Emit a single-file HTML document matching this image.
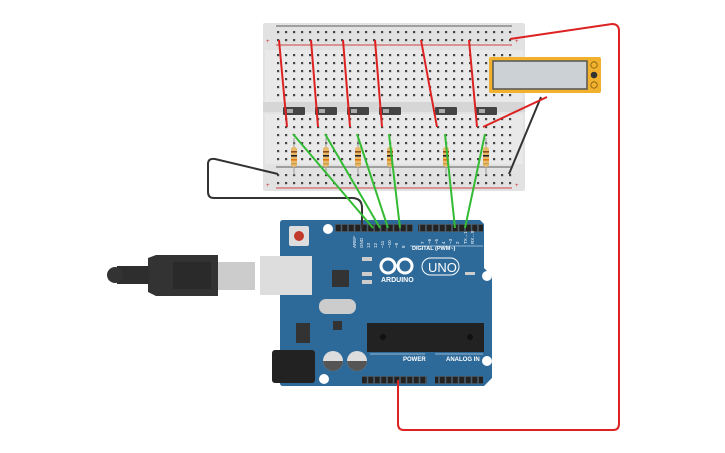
<!DOCTYPE html>
<html><head><meta charset="utf-8"><style>html,body{margin:0;padding:0;background:#fff;width:725px;height:453px;overflow:hidden}svg{display:block}text{font-family:"Liberation Sans",sans-serif}</style></head><body>
<svg width="725" height="453" viewBox="0 0 725 453" xmlns="http://www.w3.org/2000/svg">
<defs>
<pattern id="dots" x="274" y="51" width="8" height="8" patternUnits="userSpaceOnUse"><rect x="3" y="3" width="2.2" height="2.2" fill="#444"/></pattern>
<pattern id="rdots" x="274" y="28" width="8" height="8" patternUnits="userSpaceOnUse"><rect x="3" y="3" width="2.2" height="2.2" fill="#444"/></pattern>
<pattern id="hdr" x="335" y="224" width="6.5" height="8" patternUnits="userSpaceOnUse"><rect x="0.5" y="0.5" width="5.5" height="7" fill="#222" stroke="#555" stroke-width="0.6"/></pattern>
</defs>
<rect x="263" y="23" width="262" height="168" rx="2" fill="#e2e2e2"/>
<rect x="265" y="50" width="258" height="52" fill="#e9e9e9"/>
<rect x="265" y="114" width="258" height="50" fill="#e9e9e9"/>
<rect x="263" y="102" width="262" height="10" fill="#d6d6d6"/>
<line x1="276" y1="26" x2="512" y2="26" stroke="#777" stroke-width="1.2"/>
<line x1="276" y1="45" x2="512" y2="45" stroke="#c44" stroke-width="1"/>
<line x1="276" y1="167" x2="512" y2="167" stroke="#777" stroke-width="1.2"/>
<line x1="276" y1="188" x2="512" y2="188" stroke="#c44" stroke-width="1"/>
<rect x="274" y="28" width="240" height="16" fill="url(#rdots)"/>
<rect x="274" y="170" width="240" height="16" fill="url(#dots)"/>
<rect x="274" y="51" width="240" height="48" fill="url(#dots)"/>
<rect x="274" y="115" width="240" height="48" fill="url(#dots)"/>
<g font-size="6" fill="#c33"><text x="266" y="43">+</text><text x="515" y="43">+</text><text x="266" y="187">+</text><text x="515" y="187">+</text></g>
<g fill="#444"><rect x="283" y="107" width="22" height="8" rx="1"/><rect x="315" y="107" width="22" height="8" rx="1"/><rect x="347" y="107" width="22" height="8" rx="1"/><rect x="379" y="107" width="22" height="8" rx="1"/><rect x="435" y="107" width="22" height="8" rx="1"/><rect x="475" y="107" width="22" height="8" rx="1"/></g>
<g fill="#aaa"><rect x="287" y="109" width="6" height="4"/><rect x="319" y="109" width="6" height="4"/><rect x="351" y="109" width="6" height="4"/><rect x="383" y="109" width="6" height="4"/><rect x="439" y="109" width="6" height="4"/><rect x="479" y="109" width="6" height="4"/></g>
<g><g id="r"><line x1="294" y1="138" x2="294" y2="175" stroke="#999" stroke-width="1"/><rect x="291" y="147" width="6" height="20" rx="2.5" fill="#e8b96a"/><rect x="291" y="151" width="6" height="1.6" fill="#8a4b1a"/><rect x="291" y="155" width="6" height="1.6" fill="#222"/><rect x="291" y="159" width="6" height="1.6" fill="#e07a10"/><rect x="291" y="163" width="6" height="1.4" fill="#c9a34a"/></g>
<use href="#r" x="32"/><use href="#r" x="64"/><use href="#r" x="96"/><use href="#r" x="152"/><use href="#r" x="192"/></g>
<path d="M283 220 H480 L484 224 V268 L492 276 V378 L484 386 H283 Q280 386 280 383 V223 Q280 220 283 220 Z" fill="#2d6a9a"/>
<rect x="335" y="224" width="78" height="8" fill="url(#hdr)"/>
<rect x="418" y="224" width="65" height="8" fill="url(#hdr)"/>
<rect x="362" y="376" width="65" height="8" fill="url(#hdr)"/>
<rect x="435" y="376" width="48" height="8" fill="url(#hdr)"/>
<g font-size="4.5" fill="#fff"><text transform="translate(356,248) rotate(-90)">AREF</text><text transform="translate(363,248) rotate(-90)">GND</text><text transform="translate(370,248) rotate(-90)">13</text><text transform="translate(377,248) rotate(-90)">12</text><text transform="translate(384,248) rotate(-90)">~11</text><text transform="translate(391,248) rotate(-90)">~10</text><text transform="translate(398,248) rotate(-90)">~9</text><text transform="translate(405,248) rotate(-90)">8</text><text transform="translate(424,244) rotate(-90)">7</text><text transform="translate(431,244) rotate(-90)">~6</text><text transform="translate(438,244) rotate(-90)">~5</text><text transform="translate(445,244) rotate(-90)">4</text><text transform="translate(452,244) rotate(-90)">~3</text><text transform="translate(459,244) rotate(-90)">2</text><text transform="translate(467,244) rotate(-90)">TX→1</text><text transform="translate(474,244) rotate(-90)">RX←0</text></g>
<g fill="#fff"><circle cx="328" cy="229" r="5"/><circle cx="487" cy="276" r="5"/><circle cx="487" cy="361" r="5"/><circle cx="324" cy="379" r="5"/></g>
<rect x="289" y="226" width="20" height="20" rx="2" fill="#ddd"/><circle cx="299" cy="236" r="5" fill="#c0392b"/>
<rect x="332" y="270" width="17" height="17" fill="#333"/>
<rect x="319" y="299" width="37" height="15" rx="7" fill="#ccc"/>
<rect x="333" y="321" width="9" height="9" fill="#333"/>
<rect x="296" y="323" width="14" height="20" fill="#333"/>
<rect x="367" y="323" width="117" height="29" fill="#222"/>
<circle cx="383" cy="337" r="3" fill="#111"/><circle cx="470" cy="337" r="3" fill="#111"/>
<rect x="272" y="350" width="43" height="33" rx="3" fill="#222"/>
<circle cx="333" cy="361" r="10" fill="#ddd"/><circle cx="357" cy="361" r="10" fill="#ddd"/>
<path d="M323 361 a10 10 0 0 0 20 0 z M347 361 a10 10 0 0 0 20 0 z" fill="#555"/>
<g fill="#ccc"><rect x="362" y="257" width="10" height="4"/><rect x="362" y="272" width="10" height="4"/><rect x="362" y="280" width="10" height="4"/><rect x="465" y="272" width="10" height="3"/></g>
<g fill="none" stroke="#fff" stroke-width="3"><circle cx="388" cy="266" r="7"/><circle cx="405" cy="266" r="7"/></g>
<rect x="422" y="258" width="37" height="17" rx="8.5" fill="none" stroke="#fff" stroke-width="1"/>
<text x="428" y="272" font-size="13" fill="#fff">UNO</text>
<text x="381" y="282" font-size="7" font-weight="bold" fill="#fff">ARDUINO</text>
<text x="412" y="250" font-size="5.5" font-weight="bold" fill="#fff">DIGITAL (PWM~)</text>
<text x="403" y="361" font-size="6" font-weight="bold" fill="#fff">POWER</text>
<text x="446" y="361" font-size="6" font-weight="bold" fill="#fff">ANALOG IN</text>
<line x1="410" y1="246" x2="483" y2="246" stroke="#fff" stroke-width="0.6"/>
<line x1="370" y1="354" x2="425" y2="354" stroke="#fff" stroke-width="0.6"/><line x1="435" y1="354" x2="483" y2="354" stroke="#fff" stroke-width="0.6"/>
<rect x="260" y="256" width="52" height="39" fill="#ddd"/>
<rect x="218" y="262" width="37" height="28" fill="#ccc"/>
<path d="M148 258 L156 255 H218 V296 H156 L148 292 Z" fill="#333"/>
<rect x="173" y="262" width="38" height="27" fill="#2a2a2a"/>
<rect x="117" y="266" width="32" height="18" fill="#2e2e2e"/>
<circle cx="115" cy="275" r="8" fill="#333"/>
<rect x="489" y="57" width="112" height="36" rx="2" fill="#f2b12c"/>
<rect x="493" y="61" width="94" height="28" fill="#cbd1d4" stroke="#555" stroke-width="1.5"/>
<g fill="none" stroke="#7a5a10" stroke-width="0.8"><circle cx="594" cy="65" r="3.2"/><circle cx="594" cy="85" r="3.2"/></g><circle cx="594" cy="75" r="3.3" fill="#333"/>
<g stroke="#333" stroke-width="2" fill="none">
<path d="M362 228 V208 Q362 198 352 198 H214 Q208 198 208 192 V164 Q208 158 215 159 L278 174"/>
<path d="M541 97 L509 174"/></g>
<g stroke="#d22" stroke-width="2" fill="none">
<path d="M279 40 L287 127 M311 40 L318 127 M343 40 L350 127 M375 40 L382 127 M421 40 L437 127 M469 40 L477 127 M483 127 L547 97"/>
<path d="M510 39 L612 24 Q619 24 619 31 V424 Q619 430 613 430 H404 Q398 430 398 424 V380"/></g>
<g stroke="#3b3" stroke-width="2" fill="none">
<path d="M293 134 L373 228 M325 134 L380 228 M357 134 L388 228 M389 134 L400 228 M445 134 L455 228 M485 134 L465 228"/></g>
</svg>
</body></html>
